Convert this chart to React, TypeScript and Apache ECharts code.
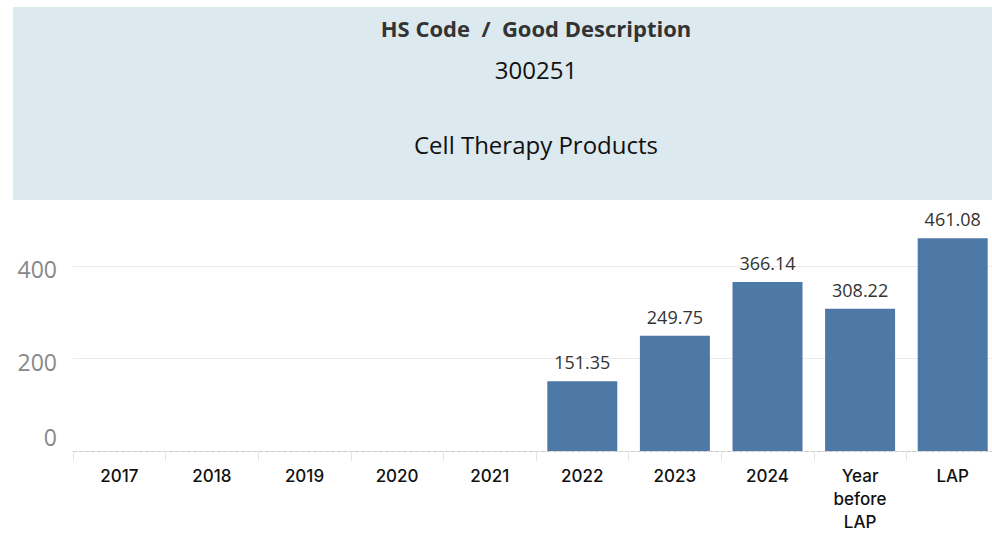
import React, { useEffect, useRef } from "react";
import * as echarts from "echarts";

const categories = ["2017", "2018", "2019", "2020", "2021", "2022", "2023", "2024", "Year\nbefore\nLAP", "LAP"];
const values: (number | null)[] = [null, null, null, null, null, 151.35, 249.75, 366.14, 308.22, 461.08];
const yTicks = [0, 200, 400];
const headerTitle = "HS Code  /  Good Description";
const headerCode = "300251";
const headerDesc = "Cell Therapy Products";

export default function App() {
  const ref = useRef<HTMLDivElement>(null);
  useEffect(() => {
    document.body.style.margin = "0";
    const chart = echarts.init(ref.current!, null, { renderer: "svg" });
    const font = "'Open Sans', 'Noto Sans', sans-serif";
    const xFont = "Inter, 'Open Sans', sans-serif";
    chart.setOption({
      animation: false,
      backgroundColor: "#ffffff",
      graphic: [
        { type: "rect", shape: { x: 13, y: 7, width: 1100, height: 193 }, style: { fill: "#dce9ef" }, z: 0 },
        { type: "text", x: 536, y: 28, style: { text: headerTitle, fill: "#333333", font: `bold 22px ${font}`, textAlign: "center", textVerticalAlign: "middle" } },
        { type: "text", x: 536, y: 69, style: { text: headerCode, fill: "#111111", font: `24px ${font}`, textAlign: "center", textVerticalAlign: "middle" } },
        { type: "text", x: 536, y: 144, style: { text: headerDesc, fill: "#111111", font: `24px ${font}`, textAlign: "center", textVerticalAlign: "middle" } },
      ],
      grid: { left: 73, right: 0, top: 205, bottom: 81, containLabel: false },
      xAxis: {
        type: "category",
        data: categories,
        axisLine: { show: true, lineStyle: { color: "#cccccc", type: "dashed", width: 1 } },
        axisTick: { show: true, length: 10, lineStyle: { color: "#e6e6e6", width: 1 } },
        axisLabel: { color: "#111111", fontSize: 17, fontFamily: xFont, fontWeight: 500, lineHeight: 23, margin: 13, interval: 0 },
        splitLine: { show: false },
      },
      yAxis: {
        type: "value",
        min: 0,
        max: 533,
        interval: 200,
        axisLine: { show: false },
        axisTick: { show: false },
        splitLine: { show: true, showMaxLine: false, showMinLine: false, lineStyle: { color: "#ebebeb", width: 1 } },
        axisLabel: {
          margin: 16,
          showMaxLabel: false,
          formatter: (v: number) => (yTicks.includes(v) ? (v === 0 ? `{z|${v}}` : `{n|${v}}`) : ""),
          rich: {
            n: { color: "#888888", fontSize: 23, fontFamily: font, padding: [6, 0, 0, 0] },
            z: { color: "#888888", fontSize: 23, fontFamily: font, padding: [0, 0, 28, 0] },
          },
        },
      },
      series: [
        {
          type: "bar",
          data: values,
          barWidth: 70,
          itemStyle: { color: "#4e79a7" },
          label: {
            show: true,
            position: "top",
            distance: 10,
            color: "#333333",
            fontSize: 18,
            fontFamily: font,
            formatter: (p: any) => (p.value == null ? "" : Number(p.value).toFixed(2)),
          },
        },
      ],
    });
    return () => chart.dispose();
  }, []);
  return (
    <div style={{ width: 992, height: 533, position: "fixed", left: 0, top: 0, overflow: "hidden" }}>
      <div ref={ref} style={{ width: 999, height: 533 }} />
    </div>
  );
}
